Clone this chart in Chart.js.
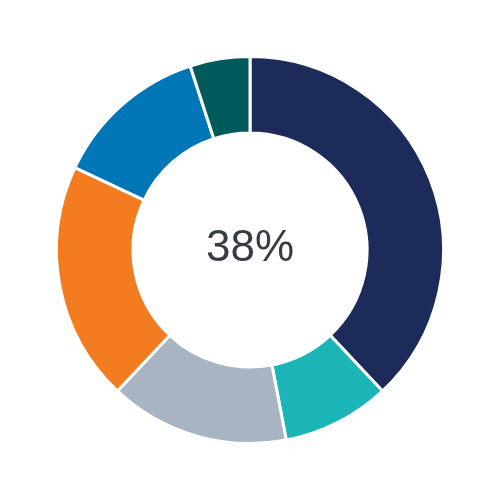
<!DOCTYPE html>
<html>
<head>
<meta charset="utf-8">
<script src="https://cdn.jsdelivr.net/npm/chart.js@4"></script>
<style>
html,body{margin:0;padding:0;background:#fff;}
#wrap{position:relative;width:500px;height:500px;}
</style>
</head>
<body>
<div id="wrap"><canvas id="c" width="500" height="500"></canvas></div>
<script>
const categories = ["A", "B", "C", "D", "E", "F"];
const values = [38, 9, 15, 20, 13, 5];
const colors = ["#1c2b59", "#1bb5b7", "#a9b4c3", "#f37c20", "#0076b6", "#00595a"];
const centerLabel = "38%";

const centerText = {
  id: "centerText",
  afterDraw(chart) {
    const ctx = chart.ctx;
    const meta = chart.getDatasetMeta(0);
    const arc = meta.data[0];
    ctx.save();
    ctx.font = "44px 'Liberation Sans', Arial, sans-serif";
    ctx.fillStyle = "#383d45";
    ctx.textAlign = "center";
    ctx.textBaseline = "middle";
    ctx.fillText(centerLabel, arc.x, arc.y - 1);
    ctx.restore();
  }
};

new Chart(document.getElementById("c"), {
  type: "doughnut",
  data: {
    labels: categories,
    datasets: [{
      data: values,
      backgroundColor: colors,
      borderColor: "#ffffff",
      borderWidth: 3
    }]
  },
  options: {
    responsive: false,
    animation: false,
    cutout: "60.5%",
    layout: { padding: 55 },
    plugins: { legend: { display: false }, tooltip: { enabled: false } }
  },
  plugins: [centerText]
});
</script>
</body>
</html>
